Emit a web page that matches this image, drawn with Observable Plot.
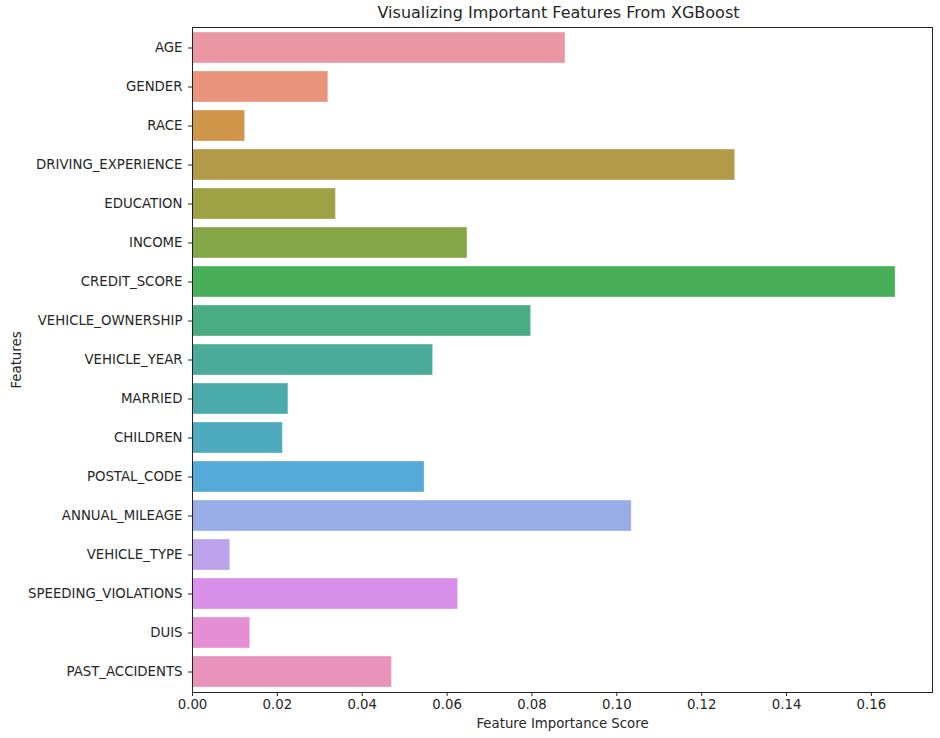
<!DOCTYPE html>
<html>
<head>
<meta charset="utf-8">
<script src="https://cdn.jsdelivr.net/npm/d3@7"></script>
<script src="https://cdn.jsdelivr.net/npm/@observablehq/plot@0.6"></script>
<style>
  html, body { margin: 0; padding: 0; background: white; }
</style>
</head>
<body>
<div id="chart"></div>
<script>
const features = [
  "AGE", "GENDER", "RACE", "DRIVING_EXPERIENCE", "EDUCATION", "INCOME",
  "CREDIT_SCORE", "VEHICLE_OWNERSHIP", "VEHICLE_YEAR", "MARRIED", "CHILDREN",
  "POSTAL_CODE", "ANNUAL_MILEAGE", "VEHICLE_TYPE", "SPEEDING_VIOLATIONS",
  "DUIS", "PAST_ACCIDENTS"
];
const scores = [
  0.0879, 0.0320, 0.0124, 0.1279, 0.0338, 0.0648,
  0.1657, 0.0798, 0.0567, 0.0226, 0.0213,
  0.0547, 0.1035, 0.0089, 0.0626,
  0.0136, 0.0470
];
const colors = [
  "#ea96a3", "#e8937a", "#cf9548", "#b39a48", "#9ea144", "#85a646",
  "#48ae58", "#49ac85", "#4aab9b", "#4babab", "#4daabe",
  "#55aad8", "#98ade6", "#bca2ea", "#d990e9",
  "#e68ed3", "#e992bb"
];
const xTicks = [0, 0.02, 0.04, 0.06, 0.08, 0.10, 0.12, 0.14, 0.16];
const xMax = 0.1744;
const title = "Visualizing Important Features From XGBoost";
const xLabel = "Feature Importance Score";
const yLabel = "Features";

const data = features.map((f, i) => ({feature: f, score: scores[i]}));

const chart = Plot.plot({
  width: 940,
  height: 738,
  marginLeft: 192,
  marginRight: 8,
  marginTop: 27,
  marginBottom: 46,
  style: {fontFamily: "DejaVu Sans", fontSize: "13px", color: "#262626", background: "white"},
  x: {domain: [0, xMax], label: null},
  y: {domain: features, paddingInner: 0.2, paddingOuter: 0.1, label: null},
  color: {domain: features, range: colors},
  marks: [
    Plot.barX(data, {x: "score", y: "feature", fill: "feature", stroke: "white", strokeOpacity: 0.35, strokeWidth: 1}),
    Plot.frame({stroke: "#222", strokeWidth: 1}),
    Plot.axisX({ticks: xTicks, tickFormat: d3.format(".2f"), tickSize: 4, tickPadding: 3, label: null, fontSize: 13.3}),
    Plot.axisY({tickSize: 4, tickPadding: 6, label: null, fontSize: 13.3}),
    Plot.text([xLabel], {frameAnchor: "bottom", dy: 31, lineAnchor: "middle", textAnchor: "middle", fontSize: 13.3}),
    Plot.text([yLabel], {frameAnchor: "left", dx: -176, rotate: -90, lineAnchor: "middle", textAnchor: "middle", fontSize: 13.3}),
    Plot.text([title], {frameAnchor: "top", dx: -4, dy: -15, lineAnchor: "middle", textAnchor: "middle", fontSize: 16})
  ]
});
document.getElementById("chart").appendChild(chart);
</script>
</body>
</html>
